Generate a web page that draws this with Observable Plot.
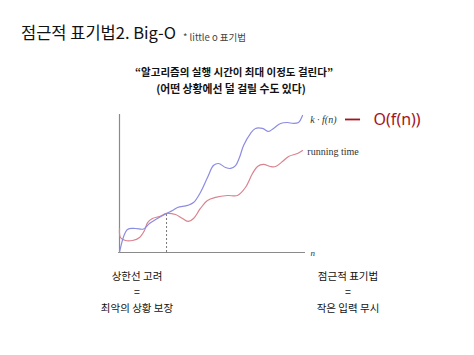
<!DOCTYPE html>
<html>
<head>
<meta charset="utf-8">
<script src="https://cdn.jsdelivr.net/npm/d3@7"></script>
<script src="https://cdn.jsdelivr.net/npm/@observablehq/plot@0.6"></script>
<style>
  html, body { margin: 0; padding: 0; background: #fff; }
  #wrap { position: relative; width: 474px; height: 355px; overflow: hidden; font-family: "Noto Sans CJK KR", "Noto Sans", sans-serif; }
  #wrap svg { position: absolute; left: 0; top: 0; }
  .t { position: absolute; white-space: nowrap; color: #111; line-height: 1; }
  .c { transform: translate(-50%, -50%); text-align: center; }
</style>
</head>
<body>
<div id="wrap">
  <div class="t" style="left:21px; top:24px; font-size:16.5px;">점근적 표기법2. Big-O</div>
  <div class="t" style="left:183px; top:33px; font-size:9.5px; color:#444;">* little o 표기법</div>
  <div class="t c" style="left:234px; top:72px; font-size:10.5px; font-weight:bold;">“알고리즘의 실행 시간이 최대 이정도 걸린다”</div>
  <div class="t c" style="left:231px; top:88px; font-size:10.8px; font-weight:bold;">(어떤 상황에선 덜 걸릴 수도 있다)</div>
  <div class="t c" style="left:137px; top:276px; font-size:10.5px;">상한선 고려</div>
  <div class="t c" style="left:137px; top:292px; font-size:10.5px;">=</div>
  <div class="t c" style="left:137px; top:308px; font-size:10.5px;">최악의 상황 보장</div>
  <div class="t c" style="left:348px; top:276px; font-size:10.5px;">점근적 표기법</div>
  <div class="t c" style="left:348px; top:292px; font-size:10.5px;">=</div>
  <div class="t c" style="left:348px; top:308px; font-size:10.5px;">작은 입력 무시</div>
</div>
<script>
// k·f(n) curve (blue), n vs value
const boundN = [0, 4.3, 8.6, 12.9, 16.1, 19.4, 25.3, 28.5, 31.2, 36.6, 39.8, 43.5, 47.3, 50.5, 53.2, 57.0, 59.7, 62.4, 64.5, 66.7, 70.4, 73.1, 76.9, 80.1, 82.8, 86.6, 90.3, 93.5, 96.2, 98.4];
const boundV = [0, 16.7, 17.4, 17.0, 21.0, 23.9, 28.3, 30.4, 32.6, 34.1, 36.2, 43.5, 54.3, 63.0, 64.5, 61.6, 60.9, 63.0, 68.8, 77.5, 86.2, 89.9, 89.9, 87.7, 89.9, 93.5, 94.2, 93.5, 94.2, 99.3];
// running time curve (red)
const runN = [0, 0.5, 3.2, 7.0, 10.8, 13.4, 15.1, 17.7, 21.5, 25.3, 30.1, 33.9, 37.1, 39.8, 43.5, 47.3, 51.6, 58.1, 63.4, 67.7, 71.5, 74.2, 77.4, 81.2, 83.9, 87.6, 90.9, 95.7, 98.4];
const runV = [17.4, 10.9, 8.7, 8.7, 10.9, 15.9, 21.7, 24.6, 26.1, 28.3, 27.5, 24.6, 22.5, 24.6, 31.9, 37.7, 39.9, 41.3, 41.3, 47.1, 57.2, 62.3, 63.8, 62.3, 62.3, 65.9, 69.6, 71.7, 73.9];
// n0 where the curves meet
const n0 = [25.3];
const n0V = [28.3];
// labels
const curveLabels = ["k · f(n)", "running time"];
const bigOLabel = "O(f(n))";
const axisLabel = "n";

const blue = boundN.map((n, i) => ({n, v: boundV[i]}));
const red = runN.map((n, i) => ({n, v: runV[i]}));

const chart = Plot.plot({
  width: 474,
  height: 355,
  marginLeft: 119,
  marginRight: 169,
  marginTop: 114,
  marginBottom: 103,
  x: {domain: [0, 100], axis: null},
  y: {domain: [0, 100], axis: null},
  style: {background: "transparent", overflow: "visible"},
  marks: [
    Plot.ruleX([0], {y1: 0, y2: 100, stroke: "#8a8a8a", strokeWidth: 1.2}),
    Plot.ruleY([0], {x1: -0.5, x2: 100, stroke: "#8a8a8a", strokeWidth: 1.2}),
    Plot.ruleX(n0, {y1: 0, y2: n0V, stroke: "#777", strokeDasharray: "2,2", strokeWidth: 1}),
    Plot.line(red, {x: "n", y: "v", curve: "catmull-rom", stroke: "#d9838f", strokeWidth: 1.2}),
    Plot.line(blue, {x: "n", y: "v", curve: "catmull-rom", stroke: "#8c8ce2", strokeWidth: 1.2}),
    Plot.text([curveLabels[0]], {x: 102.5, y: 96.4, text: d => d, textAnchor: "start", fontFamily: "Liberation Serif, serif", fontStyle: "italic", fontSize: 10, fill: "#333"}),
    Plot.text([curveLabels[1]], {x: 101, y: 73.2, text: d => d, textAnchor: "start", fontFamily: "Liberation Serif, serif", fontSize: 10, fill: "#333"}),
    Plot.text([axisLabel], {x: 102.7, y: -0.5, text: d => d, textAnchor: "start", fontFamily: "Liberation Serif, serif", fontStyle: "italic", fontSize: 9, fill: "#333"}),
    Plot.ruleY([96.4], {x1: 121.5, x2: 129.6, stroke: "#a3141c", strokeWidth: 1.8}),
    Plot.text([bigOLabel], {x: 136.6, y: 96.4, text: d => d, textAnchor: "start", fontFamily: "Noto Sans, sans-serif", fontSize: 16, fill: "#a3141c"})
  ]
});
document.getElementById("wrap").prepend(chart);
</script>
</body>
</html>
